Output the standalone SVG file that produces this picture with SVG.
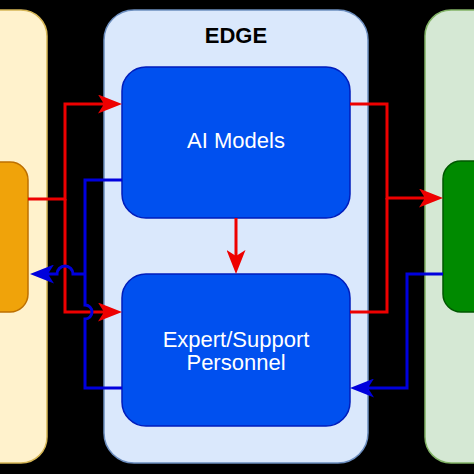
<svg xmlns="http://www.w3.org/2000/svg" width="474" height="474" viewBox="0 0 474 474">
<style>
.lbl{font-family:"Liberation Sans",Arial,sans-serif;font-size:22px;fill:#ffffff;text-anchor:middle}
.title{font-family:"Liberation Sans",Arial,sans-serif;font-size:22px;font-weight:bold;fill:#000000;text-anchor:middle}
.red{fill:none;stroke:#ee0000;stroke-width:3}
.blue{fill:none;stroke:#0000dd;stroke-width:3}
</style>
<defs>
<marker id="ar" viewBox="0 0 24 19" refX="17" refY="9.5" markerWidth="24" markerHeight="19" markerUnits="userSpaceOnUse" orient="auto">
<path d="M0,0 L24,9.5 L0,19 L6,9.5 Z" fill="#ee0000"/>
</marker>
<marker id="ab" viewBox="0 0 24 19" refX="17" refY="9.5" markerWidth="24" markerHeight="19" markerUnits="userSpaceOnUse" orient="auto">
<path d="M0,0 L24,9.5 L0,19 L6,9.5 Z" fill="#0000dd"/>
</marker>
</defs>
<rect width="474" height="474" fill="#000000"/>
<g id="left-panel"><rect x="-40" y="10" width="87" height="453" rx="26" fill="#fff2cc" stroke="#d6b656" stroke-width="1.5"/></g>
<g id="right-panel"><rect x="425" y="10" width="90" height="453" rx="26" fill="#d5e8d4" stroke="#82b366" stroke-width="1.5"/></g>
<g id="edge"><rect x="104" y="10" width="264" height="453" rx="30" fill="#dae8fc" stroke="#6c8ebf" stroke-width="1.5"/>
<text class="title" x="236" y="43">EDGE</text></g>
<g id="orange-node"><rect x="-40" y="162" width="68" height="150" rx="18" fill="#f0a30a" stroke="#bd7000" stroke-width="1.5"/></g>
<g id="green-node"><rect x="443" y="161" width="70" height="151" rx="18" fill="#008a00" stroke="#005700" stroke-width="1.5"/></g>
<g id="ai-models"><rect x="122" y="67" width="228" height="151" rx="24" fill="#0050ef" stroke="#001dbc" stroke-width="1.5"/>
<text class="lbl" x="236" y="148">AI Models</text></g>
<g id="expert"><rect x="122" y="274" width="228" height="152" rx="24" fill="#0050ef" stroke="#001dbc" stroke-width="1.5"/>
<text class="lbl" x="236" y="347">Expert/Support</text>
<text class="lbl" x="236" y="370">Personnel</text></g>
<g id="connectors">
<path class="red" d="M28,199 H65 V104 H115" marker-end="url(#ar)"/>
<path class="red" d="M65,199 V312 H115" marker-end="url(#ar)"/>
<path class="red" d="M236,218 V267" marker-end="url(#ar)"/>
<path class="red" d="M350,104 H387 V198 H436" marker-end="url(#ar)"/>
<path class="red" d="M350,312 H387 V198"/>
<path class="blue" d="M122,180 H85 V305 A7,7 0 0 1 85,319 V388 H122"/>
<path class="blue" d="M85,274 H73 A8,8 0 0 0 57,274 H37" marker-end="url(#ab)"/>
<path class="blue" d="M443,274 H407 V388 H357" marker-end="url(#ab)"/>
</g>
</svg>
